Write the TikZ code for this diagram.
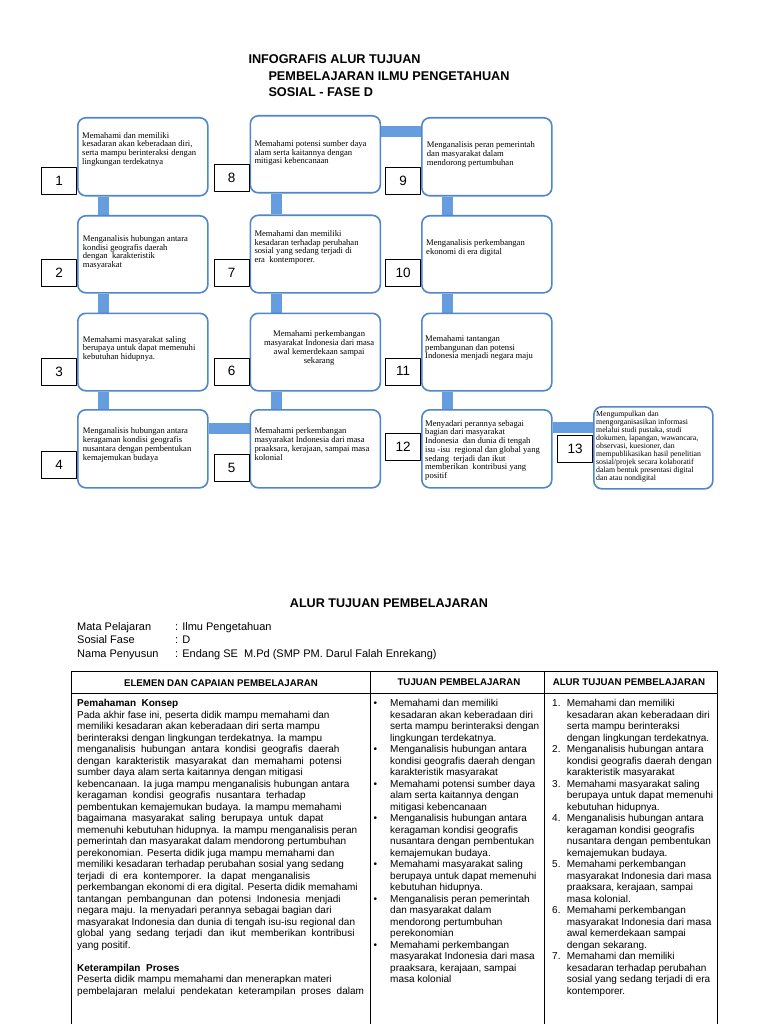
\documentclass[tikz,border=0pt]{standalone}
\usepackage{fontspec}
\setmainfont{Liberation Sans}
\newfontfamily\cardserif{Liberation Serif}
\usepackage{array}
\usetikzlibrary{
    positioning,
    backgrounds
}
\definecolor{cardline}{RGB}{79,134,204}
\definecolor{barblue}{RGB}{102,157,222}
\newcommand{\stack}[1]{\begin{tabular}[t]{@{}l@{}}#1\end{tabular}}
\newcommand{\cstack}[1]{\begin{tabular}[t]{@{}c@{}}#1\end{tabular}}
\newcommand{\markstack}[2]{\begin{tabular}[t]{@{}p{#1}@{}l@{}}#2\end{tabular}}

\begin{document}
\begin{tikzpicture}[x=1pt, y=-1pt, line join=round]
  \tikzset{
    card/.style={draw=cardline, line width=1.6pt, fill=white, rounded corners=8pt,
      anchor=north west, minimum width=130pt, minimum height=78pt, inner sep=0pt},
    cardtext/.style={anchor=base west, inner sep=0pt,
      font=\cardserif\fontsize{8.6}{8.7}\selectfont},
    numbox/.style={draw=black, line width=0.7pt, fill=white, anchor=east,
      minimum width=35pt, minimum height=27pt, inner sep=0pt,
      font=\fontsize{13.5}{14}\selectfont},
    connbar/.style={barblue, line width=11pt},
    bodytext/.style={anchor=base west, inner sep=0pt,
      font=\fontsize{10}{11.5}\selectfont},
    headtext/.style={inner sep=0pt, font=\bfseries\fontsize{9.7}{11}\selectfont},
    gridline/.style={black, line width=0.8pt}
  }
  \useasboundingbox (0,0) rectangle (768,1024);

  % heading of the infographic
  \node[anchor=base west, inner sep=0pt, font=\bfseries\fontsize{12.7}{16.7}\selectfont]
    (title) at (248.3,63.5) {\stack{INFOGRAFIS ALUR TUJUAN\\
      \hspace*{20pt}PEMBELAJARAN ILMU PENGETAHUAN\\
      \hspace*{20pt}SOSIAL - FASE D}};

  % row 1
  \node[card] (b1) at (77,117) {};
  \node[card, minimum height=77pt] (b8) at (249.5,115) {};
  \node[card] (b9) at (421,117) {};
  \node[cardtext] (t1) at ([xshift=5pt,yshift=-21.2pt]b1.north west)
    {\stack{Memahami dan memiliki\\kesadaran akan keberadaan diri,\\
      serta mampu berinteraksi dengan\\lingkungan terdekatnya}};
  \node[cardtext] (t8) at ([xshift=4.8pt,yshift=-31.5pt]b8.north west)
    {\stack{Memahami potensi sumber daya\\alam serta kaitannya dengan\\
      mitigasi kebencanaan}};
  \node[cardtext] (t9) at ([xshift=5.7pt,yshift=-30.9pt]b9.north west)
    {\stack{Menganalisis peran pemerintah\\dan masyarakat dalam\\
      mendorong pertumbuhan}};

  % row 2
  \node[card, minimum height=77pt] (b2) at (77,215) {};
  \node[card, minimum height=77.5pt] (b7) at (249.5,214.5) {};
  \node[card, minimum height=77pt] (b10) at (421,215) {};
  \node[cardtext] (t2) at ([xshift=5.7pt,yshift=-26.5pt]b2.north west)
    {\stack{Menganalisis hubungan antara\\kondisi geografis daerah\\
      dengan\ \ karakteristik\\masyarakat}};
  \node[cardtext] (t7) at ([xshift=4.8pt,yshift=-22pt]b7.north west)
    {\stack{Memahami dan memiliki\\kesadaran terhadap perubahan\\
      sosial yang sedang terjadi di\\era\ \ kontemporer.}};
  \node[cardtext] (t10) at ([xshift=5pt,yshift=-30.5pt]b10.north west)
    {\stack{Menganalisis perkembangan\\ekonomi di era digital}};

  % row 3
  \node[card, minimum height=77.5pt] (b3) at (77,312.5) {};
  \node[card, minimum height=77.5pt] (b6) at (249.5,312.5) {};
  \node[card, minimum height=77.5pt] (b11) at (421,312.5) {};
  \node[cardtext] (t3) at ([xshift=5.7pt,yshift=-29.7pt]b3.north west)
    {\stack{Memahami masyarakat saling\\berupaya untuk dapat memenuhi\\
      kebutuhan hidupnya.}};
  \node[cardtext, anchor=base] (t6) at ([xshift=3.8pt,yshift=-24.4pt]b6.north)
    {\cstack{Memahami perkembangan\\masyarakat Indonesia dari masa\\
      awal kemerdekaan sampai\\sekarang}};
  \node[cardtext] (t11) at ([xshift=4pt,yshift=-29pt]b11.north west)
    {\stack{Memahami tantangan\\pembangunan dan potensi\\
      Indonesia menjadi negara maju}};

  % row 4
  \node[card] (b4) at (77,409) {};
  \node[card] (b5) at (249.5,409) {};
  \node[card] (b12) at (421,409) {};
  \node[card, minimum width=119pt, minimum height=82pt] (b13) at (593,406) {};
  \node[cardtext] (t4) at ([xshift=5.7pt,yshift=-24.9pt]b4.north west)
    {\stack{Menganalisis hubungan antara\\keragaman kondisi geografis\\
      nusantara dengan pembentukan\\kemajemukan budaya}};
  \node[cardtext] (t5) at ([xshift=4.8pt,yshift=-24.9pt]b5.north west)
    {\stack{Memahami perkembangan\\masyarakat Indonesia dari masa\\
      praaksara, kerajaan, sampai masa\\kolonial}};
  \node[cardtext] (t12) at ([xshift=4pt,yshift=-17.2pt]b12.north west)
    {\stack{Menyadari perannya sebagai\\bagian dari masyarakat\\
      Indonesia\ \ dan dunia di tengah\\isu -isu\ \ regional dan global yang\\
      sedang\ \ terjadi dan ikut\\memberikan\ \ kontribusi yang\\positif}};
  \node[cardtext, font=\cardserif\fontsize{7.8}{8.1}\selectfont] (t13)
    at ([xshift=3pt,yshift=-10pt]b13.north west)
    {\stack{Mengumpulkan dan\\mengorganisasikan informasi\\
      melalui studi pustaka, studi\\dokumen, lapangan, wawancara,\\
      observasi, kuesioner, dan\\mempublikasikan hasil penelitian\\
      sosial/projek secara kolaboratif\\dalam bentuk presentasi digital\\
      dan atau nondigital}};

  % number tags
  \node[numbox] (n1) at ([yshift=-24pt]b1.west) {1};
  \node[numbox] (n8) at ([yshift=-24pt]b8.west) {8};
  \node[numbox] (n9) at ([yshift=-23.7pt]b9.west) {9};
  \node[numbox] (n2) at ([yshift=-18.5pt]b2.west) {2};
  \node[numbox] (n7) at ([yshift=-18.5pt]b7.west) {7};
  \node[numbox] (n10) at ([yshift=-18.5pt]b10.west) {10};
  \node[numbox] (n3) at ([yshift=-19.7pt]b3.west) {3};
  \node[numbox] (n6) at ([yshift=-19.3pt]b6.west) {6};
  \node[numbox] (n11) at ([yshift=-19.3pt]b11.west) {11};
  \node[numbox] (n4) at ([yshift=-15.8pt]b4.west) {4};
  \node[numbox] (n5) at ([yshift=-18.7pt]b5.west) {5};
  \node[numbox] (n12) at ([yshift=2pt]b12.west) {12};
  \node[numbox] (n13) at ([yshift=-1pt]b13.west) {13};

  % connectors behind the cards
  \coordinate (h89) at ([yshift=-17pt]b8.north east);
  \coordinate (h45) at ([yshift=-19pt]b4.north east);
  \coordinate (h1213) at ([yshift=-18.5pt]b12.north east);
  \begin{scope}[on background layer]
    \fill[white] (0,0) rectangle (768,1024);
    \foreach \a/\b in {b1/b2, b2/b3, b3/b4, b8/b7, b7/b6, b6/b5, b9/b10, b10/b11, b11/b12}{
      \coordinate (v) at ([xshift=26.5pt]\a.south west);
      \draw[connbar] (v) -- (v |- \b.north);
    }
    \draw[connbar] (h89) -- (h89 -| b9.west);
    \draw[connbar] (h45) -- (h45 -| b5.west);
    \draw[connbar] (h1213) -- (h1213 -| b13.west);
  \end{scope}

  % second part: the table
  \node[inner sep=0pt, font=\bfseries\fontsize{12.6}{14}\selectfont] (title2) at (389,603)
    {ALUR TUJUAN PEMBELAJARAN};
  \node[anchor=base west, inner sep=0pt, font=\fontsize{11}{13.7}\selectfont] (info)
    at (77,630.2) {\markstack{98pt}{Mata Pelajaran & : Ilmu Pengetahuan\\
      Sosial Fase & : D\\
      Nama Penyusun & : Endang SE\ \ M.Pd (SMP PM. Darul Falah Enrekang)}};

  \draw[gridline] (71.7,1024) |- (717,671.7) -- (717,1024);
  \draw[gridline] (71.7,693.3) -- (717,693.3);
  \draw[gridline] (370.5,671.7) -- (370.5,1024);
  \draw[gridline] (544.3,671.7) -- (544.3,1024);

  \node[headtext] (h1) at (221,682.7) {ELEMEN DAN CAPAIAN PEMBELAJARAN};
  \node[headtext] (h2) at (459,682.7) {TUJUAN PEMBELAJARAN};
  \node[headtext] (h3) at (629,682.7) {ALUR TUJUAN PEMBELAJARAN};

  \node[bodytext] (col1) at (77,706.9) {\stack{%
    \textbf{Pemahaman\ \ Konsep}\\
    Pada akhir fase ini, peserta didik mampu memahami dan\\
    memiliki kesadaran akan keberadaan diri serta mampu\\
    berinteraksi dengan lingkungan terdekatnya. Ia mampu\\
    menganalisis\ \ hubungan\ \ antara\ \ kondisi\ \ geografis\ \ daerah\\
    dengan\ \ karakteristik\ \ masyarakat\ \ dan\ \ memahami\ \ potensi\\
    sumber daya alam serta kaitannya dengan mitigasi\\
    kebencanaan. Ia juga mampu menganalisis hubungan antara\\
    keragaman\ \ kondisi\ \ geografis\ \ nusantara\ \ terhadap\\
    pembentukan kemajemukan budaya. Ia mampu memahami\\
    bagaimana\ \ masyarakat\ \ saling\ \ berupaya\ \ untuk\ \ dapat\\
    memenuhi kebutuhan hidupnya. Ia mampu menganalisis peran\\
    pemerintah dan masyarakat dalam mendorong pertumbuhan\\
    perekonomian. Peserta didik juga mampu memahami dan\\
    memiliki kesadaran terhadap perubahan sosial yang sedang\\
    terjadi\ \ di\ \ era\ \ kontemporer.\ \ Ia\ \ dapat\ \ menganalisis\\
    perkembangan ekonomi di era digital. Peserta didik memahami\\
    tantangan\ \ pembangunan\ \ dan\ \ potensi\ \ Indonesia\ \ menjadi\\
    negara maju. Ia menyadari perannya sebagai bagian dari\\
    masyarakat Indonesia dan dunia di tengah isu-isu regional dan\\
    global\ \ yang\ \ sedang\ \ terjadi\ \ dan\ \ ikut\ \ memberikan\ \ kontribusi\\
    yang positif.\\
    \\
    \textbf{Keterampilan\ \ Proses}\\
    Peserta didik mampu memahami dan menerapkan materi\\
    pembelajaran\ \ melalui\ \ pendekatan\ \ keterampilan\ \ proses\ \ dalam}};

  \node[bodytext] (col2) at (373.3,706.9) {\markstack{16.7pt}{%
    \textbullet & Memahami dan memiliki\\
    & kesadaran akan keberadaan diri\\
    & serta mampu berinteraksi dengan\\
    & lingkungan terdekatnya.\\
    \textbullet & Menganalisis hubungan antara\\
    & kondisi geografis daerah dengan\\
    & karakteristik masyarakat\\
    \textbullet & Memahami potensi sumber daya\\
    & alam serta kaitannya dengan\\
    & mitigasi kebencanaan\\
    \textbullet & Menganalisis hubungan antara\\
    & keragaman kondisi geografis\\
    & nusantara dengan pembentukan\\
    & kemajemukan budaya.\\
    \textbullet & Memahami masyarakat saling\\
    & berupaya untuk dapat memenuhi\\
    & kebutuhan hidupnya.\\
    \textbullet & Menganalisis peran pemerintah\\
    & dan masyarakat dalam\\
    & mendorong pertumbuhan\\
    & perekonomian\\
    \textbullet & Memahami perkembangan\\
    & masyarakat Indonesia dari masa\\
    & praaksara, kerajaan, sampai\\
    & masa kolonial}};

  \node[bodytext] (col3) at (552,706.9) {\markstack{14.7pt}{%
    1. & Memahami dan memiliki\\
    & kesadaran akan keberadaan diri\\
    & serta mampu berinteraksi\\
    & dengan lingkungan terdekatnya.\\
    2. & Menganalisis hubungan antara\\
    & kondisi geografis daerah dengan\\
    & karakteristik masyarakat\\
    3. & Memahami masyarakat saling\\
    & berupaya untuk dapat memenuhi\\
    & kebutuhan hidupnya.\\
    4. & Menganalisis hubungan antara\\
    & keragaman kondisi geografis\\
    & nusantara dengan pembentukan\\
    & kemajemukan budaya.\\
    5. & Memahami perkembangan\\
    & masyarakat Indonesia dari masa\\
    & praaksara, kerajaan, sampai\\
    & masa kolonial.\\
    6. & Memahami perkembangan\\
    & masyarakat Indonesia dari masa\\
    & awal kemerdekaan sampai\\
    & dengan sekarang.\\
    7. & Memahami dan memiliki\\
    & kesadaran terhadap perubahan\\
    & sosial yang sedang terjadi di era\\
    & kontemporer.}};
\end{tikzpicture}
\end{document}
